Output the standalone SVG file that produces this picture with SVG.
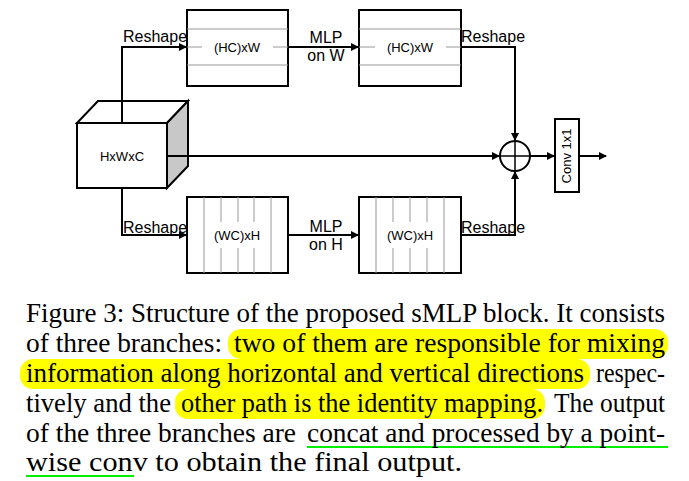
<svg xmlns="http://www.w3.org/2000/svg" width="689" height="481" viewBox="0 0 689 481">
<defs>
<marker id="ah" markerWidth="8" markerHeight="8" refX="7" refY="4" orient="auto" markerUnits="userSpaceOnUse"><path d="M0,0 L8,4 L0,8 z" fill="#000"/></marker>
</defs>
<style>
.b{fill:#fff;stroke:#000;stroke-width:2}
.g{stroke:#999;stroke-width:1;fill:none}
.c{fill:none;stroke:#000;stroke-width:2}
.s{font-family:"Liberation Sans",Arial,sans-serif;font-size:13px;fill:#000}
.l{font-family:"Liberation Sans",Arial,sans-serif;font-size:16px;fill:#000}
.t{font-family:"Liberation Serif","Times New Roman",serif;font-size:28px;fill:#000}
.hl{fill:#ffff00}
.ul{stroke:#00ee00;stroke-width:2}
</style>
<rect width="689" height="481" fill="#fff"/>
<g id="cube">
<path d="M77,123 L98,101 L188,101 L167,123 Z" class="b"/>
<path d="M167,123 L188,101 L188,166 L167,188 Z" fill="#c8c8c8" stroke="#000" stroke-width="2"/>
<rect x="77" y="123" width="90" height="65" class="b"/>
<text x="122" y="161" class="s" text-anchor="middle">HxWxC</text>
</g>
<g id="hcw1">
<rect x="187" y="10" width="101" height="76" class="b"/>
<path d="M187,29 H288 M187,65 H288 M187,47 H202 M273,47 H288" class="g"/>
<text x="237" y="52" class="s" text-anchor="middle">(HC)xW</text>
</g>
<g id="hcw2">
<rect x="359" y="10" width="102" height="76" class="b"/>
<path d="M359,29 H461 M359,65 H461 M359,47 H375 M446,47 H461" class="g"/>
<text x="410" y="52" class="s" text-anchor="middle">(HC)xW</text>
</g>
<g id="wch1">
<rect x="187" y="197" width="101" height="76" class="b"/>
<path d="M204,197 V273 M271,197 V273 M221,197 V222 M221,248 V273 M238,197 V222 M238,248 V273 M254,197 V222 M254,248 V273" class="g"/>
<text x="237" y="240" class="s" text-anchor="middle">(WC)xH</text>
</g>
<g id="wch2">
<rect x="359" y="197" width="102" height="76" class="b"/>
<path d="M376,197 V273 M444,197 V273 M393,197 V222 M393,248 V273 M410,197 V222 M410,248 V273 M427,197 V222 M427,248 V273" class="g"/>
<text x="410" y="240" class="s" text-anchor="middle">(WC)xH</text>
</g>
<g id="sum">
<circle cx="515" cy="156" r="15" class="b"/>
<path d="M500,156 H530 M515,141 V171" stroke="#000" stroke-width="1.5"/>
</g>
<g id="conv">
<rect x="555" y="119" width="24" height="73" class="b"/>
<text transform="translate(571,156) rotate(-90)" class="s" font-size="11" text-anchor="middle">Conv 1x1</text>
</g>
<g id="connectors" class="c">
<path d="M122,123 V47 H186" marker-end="url(#ah)"/>
<path d="M122,188 V235 H186" marker-end="url(#ah)"/>
<path d="M288,47 H358" marker-end="url(#ah)"/>
<path d="M288,235 H358" marker-end="url(#ah)"/>
<path d="M461,47 H515 V140" marker-end="url(#ah)"/>
<path d="M461,235 H515 V172" marker-end="url(#ah)"/>
<path d="M167,156 H499" marker-end="url(#ah)"/>
<path d="M530,156 H554" marker-end="url(#ah)"/>
<path d="M579,156 H606" marker-end="url(#ah)"/>
</g>
<g id="labels">
<text x="123" y="42" class="l">Reshape</text>
<text x="123" y="233" class="l">Reshape</text>
<text x="461" y="42" class="l">Reshape</text>
<text x="461" y="233" class="l">Reshape</text>
<text x="326" y="43" class="l" text-anchor="middle">MLP</text>
<text x="326" y="61" class="l" text-anchor="middle">on W</text>
<text x="326" y="232" class="l" text-anchor="middle">MLP</text>
<text x="326" y="250" class="l" text-anchor="middle">on H</text>
</g>
<g id="caption">
<rect x="228" y="329" width="440" height="30" rx="13" class="hl"/>
<rect x="20" y="359" width="570" height="30" rx="13" class="hl"/>
<rect x="175" y="389" width="370" height="30" rx="13" class="hl"/>
<line x1="307" y1="447" x2="668" y2="447" class="ul"/>
<line x1="26" y1="476" x2="134" y2="476" class="ul"/>
<text x="26" y="322" class="t" textLength="639" lengthAdjust="spacingAndGlyphs">Figure 3: Structure of the proposed sMLP block. It consists</text>
<text x="26" y="352" class="t" textLength="196" lengthAdjust="spacingAndGlyphs">of three branches:</text>
<text x="234" y="352" class="t" textLength="431" lengthAdjust="spacingAndGlyphs">two of them are responsible for mixing</text>
<text x="26" y="382" class="t" textLength="558" lengthAdjust="spacingAndGlyphs">information along horizontal and vertical directions</text>
<text x="596" y="382" class="t" textLength="69" lengthAdjust="spacingAndGlyphs">respec-</text>
<text x="26" y="412" class="t" textLength="145" lengthAdjust="spacingAndGlyphs">tively and the</text>
<text x="181" y="412" class="t" textLength="362" lengthAdjust="spacingAndGlyphs">other path is the identity mapping.</text>
<text x="554" y="412" class="t" textLength="111" lengthAdjust="spacingAndGlyphs">The output</text>
<text x="26" y="442" class="t" textLength="270" lengthAdjust="spacingAndGlyphs">of the three branches are</text>
<text x="307" y="442" class="t" textLength="358" lengthAdjust="spacingAndGlyphs">concat and processed by a point-</text>
<text x="26" y="471" class="t" textLength="436" lengthAdjust="spacingAndGlyphs">wise conv to obtain the final output.</text>
</g>
</svg>
